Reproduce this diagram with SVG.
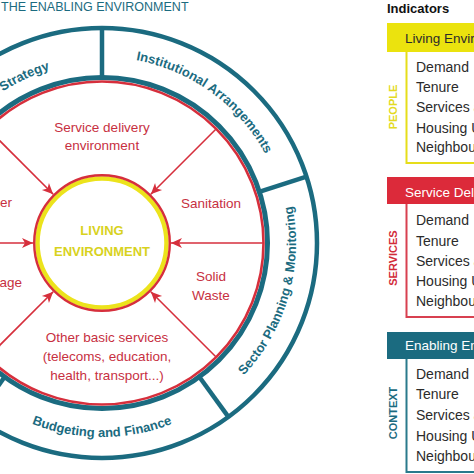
<svg xmlns="http://www.w3.org/2000/svg" width="474" height="474" viewBox="0 0 474 474">
<style>
.teal{stroke:#1b6b80;fill:none}
.red{stroke:#d62f3c;fill:none}
.ring{font-family:"Liberation Sans",Arial,sans-serif;font-weight:bold;font-size:13px;fill:#1b6b80}
.lbl{font-family:"Liberation Sans",Arial,sans-serif;font-size:13.5px;fill:#c7303f;text-anchor:middle}
.item{font-family:"Liberation Sans",Arial,sans-serif;font-size:14px;fill:#2b2b2b}
.hdr{font-family:"Liberation Sans",Arial,sans-serif;font-size:13.5px}
.side{font-family:"Liberation Sans",Arial,sans-serif;font-size:11px;font-weight:bold;text-anchor:middle}
.arrow{stroke:#d62f3c;stroke-width:1.6;fill:none;marker-end:url(#ah)}
</style>
<defs>
<marker id="ah" markerUnits="userSpaceOnUse" markerWidth="12" markerHeight="12" viewBox="0 0 12 12" refX="11" refY="6" orient="auto">
<path d="M0,1 L11,6 L0,11 L3,6 Z" fill="#d62f3c"/>
</marker>
<path id="pInst" d="M26.35,73.08 A186,186 0 0 1 286.98,262.44"/>
<path id="pStrat" d="M-78.31,227.22 A181,181 0 0 1 205.82,94.73"/>
<path id="pSector" d="M148.93,431.24 A194,194 0 0 0 241.55,108.23"/>
<path id="pBudget" d="M-66.01,340 A194,194 0 0 0 270.01,340"/>
</defs>
<rect width="474" height="474" fill="#ffffff"/>

<text x="1" y="11" font-family="Liberation Sans, Arial, sans-serif" font-size="12.5" fill="#1b6b80">THE ENABLING ENVIRONMENT</text>

<g id="enabling-ring">
<circle cx="102" cy="243" r="215" class="teal" stroke-width="4.5"/>
<circle cx="102" cy="243" r="165.5" class="teal" stroke-width="5"/>
<line x1="102" y1="77" x2="102" y2="28" class="teal" stroke-width="4.5"/>
<line x1="259.9" y1="191.7" x2="306.5" y2="176.6" class="teal" stroke-width="4.5"/>
<line x1="199.6" y1="377.3" x2="228.4" y2="416.9" class="teal" stroke-width="4.5"/>
<line x1="4.4" y1="377.3" x2="-24.4" y2="416.9" class="teal" stroke-width="4.5"/>
</g>
<g id="strategy"><text class="ring"><textPath href="#pStrat" startOffset="50%" text-anchor="middle">Strategy</textPath></text></g>
<g id="institutional"><text class="ring"><textPath href="#pInst" startOffset="50%" text-anchor="middle">Institutional Arrangements</textPath></text></g>
<g id="sector"><text class="ring"><textPath href="#pSector" startOffset="50%" text-anchor="middle">Sector Planning &amp; Monitoring</textPath></text></g>
<g id="budget"><text class="ring"><textPath href="#pBudget" startOffset="50%" text-anchor="middle">Budgeting and Finance</textPath></text></g>

<g id="service-ring">
<circle cx="102" cy="243" r="161.5" class="red" stroke-width="2.6"/>
</g>

<g id="connectors">
<line x1="215.8" y1="129.2" x2="150.8" y2="194.2" class="arrow"/>
<line x1="-11.8" y1="129.2" x2="53.2" y2="194.2" class="arrow"/>
<line x1="-59" y1="243" x2="33" y2="243" class="arrow"/>
<line x1="263" y1="243" x2="171" y2="243" class="arrow"/>
<line x1="215.8" y1="356.8" x2="150.8" y2="291.8" class="arrow"/>
<line x1="-11.8" y1="356.8" x2="53.2" y2="291.8" class="arrow"/>
</g>

<g id="service-delivery"><text class="lbl" x="102" y="132">Service delivery</text><text class="lbl" x="102" y="150">environment</text></g>
<g id="sanitation"><text class="lbl" x="211" y="208">Sanitation</text></g>
<g id="solid-waste"><text class="lbl" x="211" y="281">Solid</text><text class="lbl" x="211" y="300">Waste</text></g>
<g id="other"><text class="lbl" x="107" y="342">Other basic services</text><text class="lbl" x="107" y="361">(telecoms, education,</text><text class="lbl" x="107" y="380">health, transport...)</text></g>
<g id="water"><text class="lbl" x="12" y="207" text-anchor="end" style="text-anchor:end">er</text></g>
<g id="drainage"><text class="lbl" x="22" y="287" style="text-anchor:end">age</text></g>

<g id="living-environment">
<circle cx="102" cy="243" r="64.5" fill="#ffffff" stroke="#ece31c" stroke-width="4.5"/>
<circle cx="102" cy="243" r="67.8" class="red" stroke-width="2.4"/>
<text x="102" y="235" text-anchor="middle" font-family="Liberation Sans, Arial, sans-serif" font-weight="bold" font-size="13" fill="#d8d21e">LIVING</text>
<text x="102" y="256" text-anchor="middle" font-family="Liberation Sans, Arial, sans-serif" font-weight="bold" font-size="13" fill="#d8d21e">ENVIRONMENT</text>
</g>

<g id="indicators">
<text x="387" y="12.5" font-family="Liberation Sans, Arial, sans-serif" font-weight="bold" font-size="13" fill="#111">Indicators</text>
</g>

<g id="people">
<rect x="387" y="23" width="90" height="29" fill="#ebe30e"/>
<text class="hdr" x="405" y="43" fill="#2b2b2b">Living Environment</text>
<path d="M406.5,52 V163 H476" fill="none" stroke="#e6dd1a" stroke-width="2"/>
<text class="side" transform="translate(397,107) rotate(-90)" fill="#e3da22">PEOPLE</text>
<text class="item" x="416" y="72">Demand</text>
<text class="item" x="416" y="92">Tenure</text>
<text class="item" x="416" y="112">Services access</text>
<text class="item" x="416" y="133">Housing Units</text>
<text class="item" x="416" y="152">Neighbourhood</text>
</g>

<g id="services">
<rect x="387" y="177" width="90" height="27" fill="#dc2a3a"/>
<text class="hdr" x="405" y="197" fill="#ffffff">Service Delivery</text>
<path d="M406.5,204 V317 H476" fill="none" stroke="#d84050" stroke-width="2"/>
<text class="side" transform="translate(397,258) rotate(-90)" fill="#d22b3a">SERVICES</text>
<text class="item" x="416" y="225">Demand</text>
<text class="item" x="416" y="246">Tenure</text>
<text class="item" x="416" y="266">Services access</text>
<text class="item" x="416" y="286">Housing Units</text>
<text class="item" x="416" y="306">Neighbourhood</text>
</g>

<g id="context">
<rect x="387" y="332" width="90" height="27" fill="#1b6b80"/>
<text class="hdr" x="405" y="350" fill="#ffffff">Enabling Environment</text>
<path d="M406.5,359 V472 H476" fill="none" stroke="#2a7a8c" stroke-width="2"/>
<text class="side" transform="translate(397,413) rotate(-90)" fill="#1b6b80">CONTEXT</text>
<text class="item" x="416" y="379">Demand</text>
<text class="item" x="416" y="399">Tenure</text>
<text class="item" x="416" y="420">Services access</text>
<text class="item" x="416" y="441">Housing Units</text>
<text class="item" x="416" y="461">Neighbourhood</text>
</g>
</svg>
